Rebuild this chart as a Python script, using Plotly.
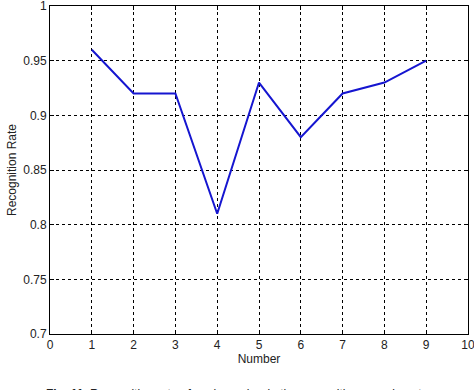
import plotly.graph_objects as go

numbers = [1, 2, 3, 4, 5, 6, 7, 8, 9]
recognition_rate = [0.96, 0.92, 0.92, 0.81, 0.93, 0.88, 0.92, 0.93, 0.95]
x_ticks = list(range(0, 11))
y_ticks = [0.7, 0.75, 0.8, 0.85, 0.9, 0.95, 1]
y_tick_labels = ["0.7", "0.75", "0.8", "0.85", "0.9", "0.95", "1"]

font = dict(family="Liberation Sans, Arial", size=12, color="#222")

fig = go.Figure()
fig.add_trace(go.Scatter(
    x=numbers, y=recognition_rate, mode="lines",
    line=dict(color="#1515d0", width=2),
    showlegend=False,
))

axis_common = dict(
    showline=True, linecolor="black", linewidth=1, mirror="ticks",
    ticks="inside", ticklen=4, tickcolor="black",
    showgrid=True, gridcolor="black", gridwidth=1, griddash="3px,3px",
    zeroline=False, automargin=False, ticklabeloverflow="allow",
    tickfont=font,
)

fig.update_xaxes(range=[0, 10], tickvals=x_ticks, **axis_common,
                 title=dict(text="Number", font=font, standoff=2))
fig.update_yaxes(range=[0.7, 1], tickvals=y_ticks, ticktext=y_tick_labels, **axis_common,
                 title=dict(text="Recognition Rate", font=font, standoff=4))

fig.add_annotation(
    text="<b>Fig. 11.</b> Recognition rate of each number in the recognition experiment",
    xref="paper", yref="paper", x=0.44, y=-0.157, xanchor="center", yanchor="top",
    showarrow=False, font=font,
)

fig.update_layout(
    width=474, height=390,
    margin=dict(l=50, r=6, t=6, b=56),
    plot_bgcolor="white", paper_bgcolor="white",
)

fig.write_html("out.html", config={"displayModeBar": False},
               post_script="document.body.style.margin='0';")
